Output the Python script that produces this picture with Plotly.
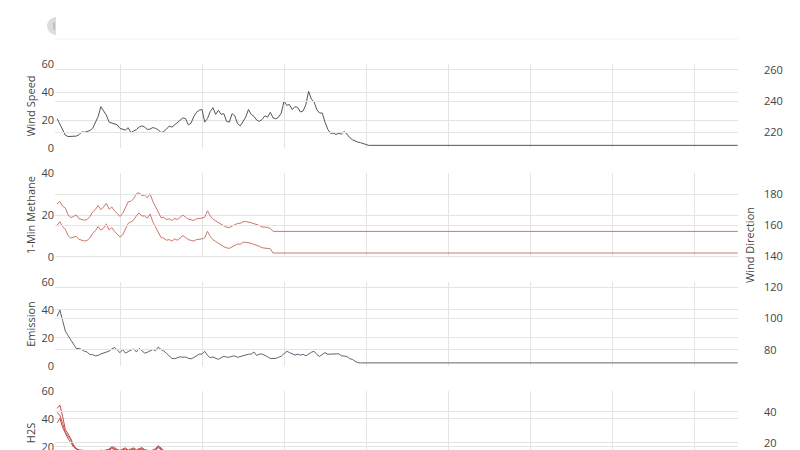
import plotly.graph_objects as go

# ---------------- data ----------------
# time in minutes; the instruments report once per minute
t_wind_speed = list(range(7, 122)) + [256]
wind_speed = [
    21.0, 17.0, 12.5, 9.2, 8.2, 8.3, 8.6, 8.5, 9.5, 11.5,
    11.2, 11.7, 12.5, 14.0, 18.0, 22.5, 29.5, 26.5, 23.5, 18.5,
    17.8, 16.8, 16.5, 14.0, 13.2, 12.8, 14.5, 11.0, 12.2, 13.2,
    15.0, 15.8, 15.0, 13.3, 13.5, 14.6, 14.0, 13.0, 11.0, 11.8,
    13.5, 15.7, 14.9, 16.5, 18.5, 20.0, 21.5, 21.0, 16.5, 17.8,
    22.5, 25.5, 27.0, 27.5, 18.5, 21.0, 26.0, 28.8, 24.0, 27.0,
    24.0, 24.5, 19.0, 18.5, 24.5, 23.0, 17.5, 15.8, 18.5, 22.0,
    27.5, 24.0, 22.6, 20.0, 19.0, 20.5, 23.0, 22.0, 25.5, 21.5,
    20.9, 22.0, 25.0, 33.5, 30.5, 31.0, 27.5, 29.5, 29.0, 25.7,
    26.5, 31.0, 40.5, 35.0, 32.9, 27.5, 25.0, 25.0, 18.5, 13.5,
    10.5, 10.6, 9.7, 10.4, 10.0, 11.8, 10.0, 7.5, 6.0, 4.8,
    4.2, 3.8, 3.3, 2.6, 1.9,
    1.9,
]

t_methane = list(range(7, 87)) + [256]
methane_high = [
    25.3, 26.5, 24.2, 23.4, 20.0, 18.8, 19.3, 20.0, 18.2, 17.8,
    17.5, 17.9, 19.3, 21.5, 22.6, 24.5, 22.5, 23.8, 25.6, 22.8,
    23.8, 22.0, 20.5, 19.3, 20.8, 23.2, 26.2, 26.5, 27.8, 30.2,
    30.6, 29.2, 29.5, 28.2, 30.2, 26.5, 23.8, 21.2, 18.8, 18.9,
    17.8, 18.2, 17.4, 18.4, 17.8, 18.9, 20.0, 18.9, 18.0, 17.7,
    17.4, 18.2, 18.3, 18.5, 19.0, 22.0, 19.6, 18.0, 17.2, 16.3,
    15.8, 14.8, 14.2, 14.0, 14.7, 15.3, 16.0, 16.0, 16.8, 16.9,
    16.7, 16.3, 15.9, 15.5, 15.0, 14.3, 14.2, 14.1, 13.6,
    12.2, 12.2,
]
methane_low = [
    15.1, 16.8, 14.4, 13.2, 10.2, 9.0, 9.5, 9.8, 8.4, 8.0,
    7.6, 7.9, 9.1, 11.3, 12.5, 14.5, 12.8, 13.7, 15.8, 12.9,
    14.0, 12.2, 10.7, 9.5, 10.6, 13.0, 16.0, 16.7, 17.6, 19.6,
    21.0, 19.5, 19.6, 18.5, 20.5, 16.8, 14.2, 11.5, 9.3, 9.0,
    8.0, 8.3, 7.6, 8.6, 8.0, 9.0, 10.2, 9.2, 8.3, 7.9,
    7.6, 8.3, 8.4, 8.6, 9.2, 12.2, 9.8, 8.2, 7.4, 6.5,
    5.9, 4.9, 4.4, 4.1, 4.8, 5.4, 6.2, 6.1, 7.0, 7.0,
    6.9, 6.5, 6.0, 5.6, 5.1, 4.4, 4.3, 4.3, 3.9,
    1.9, 1.9,
]

t_emission = list(range(7, 119)) + [256]
emission = [
    35.4, 40.0, 32.5, 25.0, 21.7, 18.8, 15.0, 12.5, 12.4, 11.8,
    10.5, 10.0, 8.0, 8.2, 7.2, 7.6, 8.6, 9.3, 9.8, 10.6,
    12.2, 13.2, 11.4, 9.5, 11.7, 9.2, 10.3, 11.5, 12.2, 10.0,
    12.5, 11.0, 9.2, 9.8, 10.8, 11.8, 10.9, 13.5, 11.8, 10.8,
    9.0, 7.3, 5.4, 5.2, 5.7, 6.6, 6.2, 6.4, 5.5, 5.1,
    6.0, 7.2, 8.5, 8.5, 10.5, 7.5, 6.0, 6.4, 5.4, 4.7,
    6.0, 6.8, 6.4, 6.2, 7.0, 7.1, 6.2, 6.8, 7.0, 7.6,
    8.4, 8.5, 10.0, 7.5, 8.5, 8.5, 7.8, 6.6, 5.3, 5.1,
    5.4, 6.2, 7.0, 8.8, 10.5, 9.6, 8.6, 7.8, 8.4, 7.8,
    8.3, 7.3, 8.4, 9.8, 10.5, 8.2, 6.8, 8.2, 9.6, 8.4,
    8.4, 8.4, 8.4, 8.7, 7.3, 7.0, 6.8, 5.3, 4.7, 3.4,
    2.4, 2.2,
    2.2,
]

t_h2s = list(range(7, 53))
h2s_a = [
    47.6, 50.0, 42.0, 32.5, 29.3, 26.0, 21.5, 18.8, 18.0, 17.6,
    17.2, 17.0, 16.8, 17.2, 17.5, 17.0, 17.8, 17.4, 18.0, 18.5,
    20.2, 19.6, 18.2, 17.5, 18.6, 19.4, 17.8, 18.4, 19.4, 18.0,
    18.6, 19.6, 18.2, 17.6, 17.2, 17.8, 18.8, 21.0, 19.2, 17.6,
    16.8, 16.2, 15.8, 15.5, 15.2, 15.0,
]
h2s_b = [
    44.5, 42.8, 36.8, 30.5, 27.8, 25.0, 20.5, 18.6, 17.4, 17.0,
    16.6, 16.4, 16.3, 16.8, 17.0, 16.5, 17.2, 17.0, 17.5, 18.0,
    19.6, 18.8, 17.6, 17.0, 18.0, 18.7, 17.2, 17.8, 18.8, 17.4,
    18.0, 19.0, 17.6, 17.0, 16.6, 17.2, 18.2, 20.2, 18.5, 17.0,
    16.2, 15.6, 15.2, 14.9, 14.6, 14.4,
]
h2s_c = [
    37.3, 40.4, 34.0, 29.6, 26.0, 23.0, 20.0, 18.5, 16.8, 16.4,
    16.0, 15.8, 15.7, 16.2, 16.4, 16.0, 16.6, 16.4, 16.9, 17.4,
    19.0, 18.2, 17.0, 16.4, 17.4, 18.1, 16.6, 17.2, 18.2, 16.8,
    17.4, 18.4, 17.0, 16.4, 16.0, 16.6, 17.6, 19.6, 17.9, 16.4,
    15.6, 15.0, 14.6, 14.3, 14.0, 13.8,
]

t_wind_dir = []
wind_dir = []
wind_dir_ticks = [20, 40, 80, 100, 120, 140, 160, 180, 220, 240, 260]
row_titles = ["Wind Speed", "1-Min Methane", "Emission", "H2S"]
row_ranges = [[0, 60], [0, 40], [0, 60], [0, 60]]

# ---------------- styling ----------------
GRID = "#e4e4e4"
DARK = "#55555f"
SLATE = "#5f6372"
SALMON = "rgb(206,118,108)"
RED = "rgb(200,78,74)"

X_DOMAIN = [0, 0.9318]
X_RANGE = [6.22, 256.1]
ROW_DOMAINS = [[0.7083, 0.8833], [0.48125, 0.65625], [0.2542, 0.4292], [0.0271, 0.2021]]

fig = go.Figure()


def line(x, y, color, row):
    sfx = "" if row == 1 else str(row)
    fig.add_trace(go.Scatter(
        x=x, y=y, mode="lines", xaxis="x" + sfx, yaxis="y" + sfx,
        line=dict(color=color, width=1), showlegend=False, hoverinfo="x+y",
    ))


line(t_wind_speed, wind_speed, DARK, 1)
line(t_methane, methane_high, SALMON, 2)
line(t_methane, methane_low, SALMON, 2)
line(t_emission, emission, SLATE, 3)
line(t_h2s, h2s_a, RED, 4)
line(t_h2s, h2s_b, RED, 4)
line(t_h2s, h2s_c, RED, 4)
line(t_wind_dir, wind_dir, "#888", 5)

layout = dict(
    width=800, height=480,
    margin=dict(l=47, r=20, t=0, b=0, autoexpand=False),
    paper_bgcolor="white",
    plot_bgcolor="rgba(0,0,0,0)",
    font=dict(family="Open Sans, sans-serif", size=11, color="#444"),
    showlegend=False,
)

for i in range(4):
    sfx = "" if i == 0 else str(i + 1)
    layout["xaxis" + sfx] = dict(
        domain=X_DOMAIN, anchor="y" + sfx, range=X_RANGE, tick0=0, dtick=30,
        showticklabels=False, ticks="", showgrid=True, gridcolor=GRID,
        zeroline=False, showline=False, automargin=False,
        **({} if i == 0 else {"matches": "x"}),
    )
    layout["yaxis" + sfx] = dict(
        domain=ROW_DOMAINS[i], anchor="x" + sfx, range=row_ranges[i], dtick=20,
        ticks="", showgrid=True, gridcolor=GRID, zeroline=False, showline=False,
        automargin=False,
        title=dict(text=row_titles[i], font=dict(size=11), standoff=3),
    )

layout["xaxis5"] = dict(domain=X_DOMAIN, anchor="y5", range=X_RANGE, visible=False,
                        showgrid=False, matches="x", automargin=False)
layout["yaxis5"] = dict(
    domain=[0.0771, 0.9354], anchor="free", position=0.9618, side="left",
    ticklabelposition="inside", range=[14.85, 279.9], tickvals=wind_dir_ticks,
    ticks="", showgrid=True, gridcolor=GRID, zeroline=False, showline=False,
    automargin=False,
    title=dict(text="Wind Direction", font=dict(size=11), standoff=6),
)

layout["shapes"] = [
    dict(type="circle", xref="paper", yref="paper", x0=-0.0109, x1=0.0136,
         y0=0.94375, y1=0.98125, fillcolor="#dcdcdc", line=dict(width=0), layer="above"),
    dict(type="line", xref="paper", yref="paper", x0=-0.0014, x1=-0.0014,
         y0=0.955, y1=0.97, line=dict(color="#a8a8a8", width=1), layer="above"),
    dict(type="rect", xref="paper", yref="paper", x0=0.0014, x1=1.0,
         y0=0.9375, y1=1.0, fillcolor="white", line=dict(width=0), layer="above"),
    dict(type="line", xref="paper", yref="paper", x0=0, x1=0.9318,
         y0=0.9354, y1=0.9354, line=dict(color="#f1f1f1", width=1), layer="above"),
]

fig.update_layout(**layout)
fig.write_html("out.html")
